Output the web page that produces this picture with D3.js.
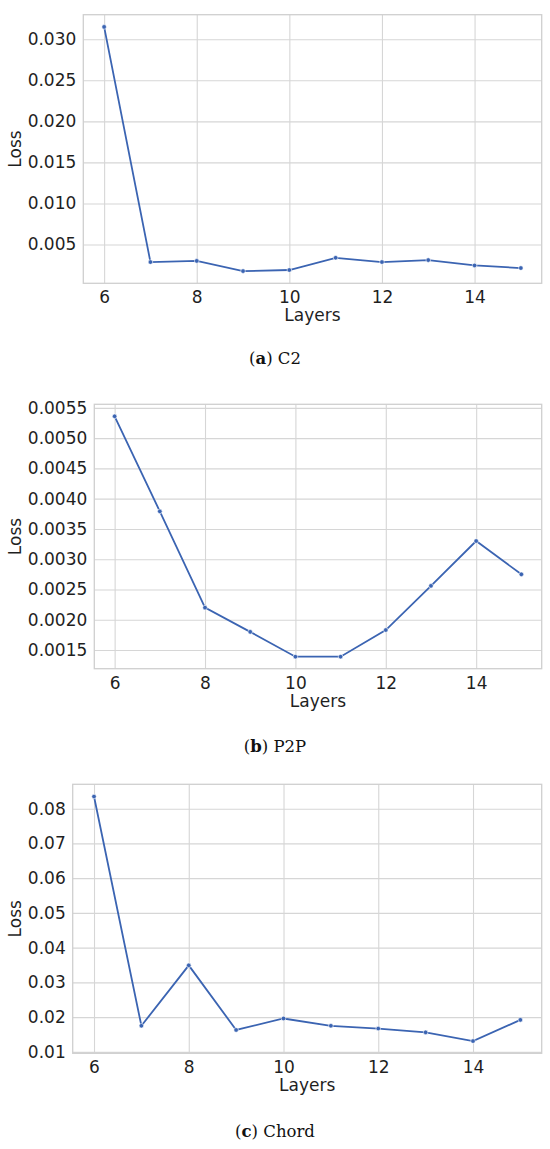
<!DOCTYPE html>
<html>
<head>
<meta charset="utf-8">
<script src="https://cdn.jsdelivr.net/npm/d3@7"></script>
<style>
  body { margin: 0; background: #fff; }
  svg text { font-family: "DejaVu Sans", sans-serif; fill: #1f1f1f; }
  text.cap { font-family: "DejaVu Serif", "Liberation Serif", serif; fill: #111; }
</style>
</head>
<body>
<div id="g1"></div>
<script>
// data
var layers = [6, 7, 8, 9, 10, 11, 12, 13, 14, 15];
var c2Loss = [0.0315, 0.00286, 0.0030, 0.00176, 0.00189, 0.00338, 0.00286, 0.0031, 0.00245, 0.00213];
var p2pLoss = [0.00536, 0.00379, 0.0022, 0.0018, 0.00139, 0.00139, 0.00183, 0.00256, 0.0033, 0.00275];
var chordLoss = [0.0835, 0.0175, 0.0349, 0.0163, 0.0196, 0.0175, 0.0167, 0.0156, 0.0131, 0.0192];
var xTicks = [6, 8, 10, 12, 14];
var c2Ticks = [0.005, 0.010, 0.015, 0.020, 0.025, 0.030];
var p2pTicks = [0.0015, 0.0020, 0.0025, 0.0030, 0.0035, 0.0040, 0.0045, 0.0050, 0.0055];
var chordTicks = [0.01, 0.02, 0.03, 0.04, 0.05, 0.06, 0.07, 0.08];
var captions = [["a", "C2"], ["b", "P2P"], ["c", "Chord"]];

var w = 550, h = 1149;
var svg = d3.select("#g1").append("svg").attr("width", w).attr("height", h);

var panels = [
  {values: c2Loss, ticks: c2Ticks, fmt: ".3f", left: 83.3, top: 14.7, bottom: 283.3, cap: captions[0], capY: 364},
  {values: p2pLoss, ticks: p2pTicks, fmt: ".4f", left: 94.3, top: 404.3, bottom: 668.7, cap: captions[1], capY: 752},
  {values: chordLoss, ticks: chordTicks, fmt: ".2f", left: 72.7, top: 784.3, bottom: 1053.3, cap: captions[2], capY: 1137}
];
var right = 541.7;
var blue = "#3b64b2", grid = "#d6d6d6";

panels.forEach(function(p) {
  // matplotlib style 5% margins
  var xr = d3.extent(layers), xm = (xr[1] - xr[0]) * 0.05;
  var yr = d3.extent(p.values), ym = (yr[1] - yr[0]) * 0.05;
  var x = d3.scaleLinear().domain([xr[0] - xm, xr[1] + xm]).range([p.left, right]);
  var y = d3.scaleLinear().domain([yr[0] - ym, yr[1] + ym]).range([p.bottom, p.top]);

  var g = svg.append("g");

  // grid
  g.append("g").attr("transform", "translate(0," + p.bottom + ")")
    .call(d3.axisBottom(x).tickValues(xTicks).tickSize(-(p.bottom - p.top)).tickFormat(""))
    .call(function(a) { a.select(".domain").remove(); a.selectAll("line").attr("stroke", grid).attr("stroke-width", 1.1); });
  g.append("g").attr("transform", "translate(" + p.left + ",0)")
    .call(d3.axisLeft(y).tickValues(p.ticks).tickSize(-(right - p.left)).tickFormat(""))
    .call(function(a) { a.select(".domain").remove(); a.selectAll("line").attr("stroke", grid).attr("stroke-width", 1.1); });

  // frame
  g.append("rect").attr("x", p.left).attr("y", p.top)
    .attr("width", right - p.left).attr("height", p.bottom - p.top)
    .attr("fill", "none").attr("stroke", "#cfcfcf").attr("stroke-width", 1.3);

  // tick labels
  g.append("g").attr("transform", "translate(0," + p.bottom + ")")
    .call(d3.axisBottom(x).tickValues(xTicks).tickSize(0).tickPadding(8).tickFormat(d3.format("d")))
    .call(function(a) { a.select(".domain").remove(); a.selectAll("text").attr("font-size", 17).attr("font-family", null).attr("fill", "#1f1f1f"); });
  g.append("g").attr("transform", "translate(" + p.left + ",0)")
    .call(d3.axisLeft(y).tickValues(p.ticks).tickSize(0).tickPadding(7).tickFormat(d3.format(p.fmt)))
    .call(function(a) { a.select(".domain").remove(); a.selectAll("text").attr("font-size", 17).attr("font-family", null).attr("fill", "#1f1f1f"); });

  // axis titles
  g.append("text").attr("x", (p.left + right) / 2).attr("y", p.bottom + 38)
    .attr("text-anchor", "middle").attr("font-size", 17).text("Layers");
  g.append("text").attr("transform", "translate(21," + (p.top + p.bottom) / 2 + ") rotate(-90)")
    .attr("text-anchor", "middle").attr("font-size", 17).text("Loss");

  // line + markers
  var pts = layers.map(function(l, i) { return [l, p.values[i]]; });
  g.append("path").datum(pts)
    .attr("fill", "none").attr("stroke", blue).attr("stroke-width", 1.8)
    .attr("d", d3.line().x(function(d) { return x(d[0]); }).y(function(d) { return y(d[1]); }));
  g.selectAll("circle").data(pts).enter().append("circle")
    .attr("cx", function(d) { return x(d[0]); }).attr("cy", function(d) { return y(d[1]); })
    .attr("r", 2.3).attr("fill", blue).attr("stroke", "#fff").attr("stroke-width", 0.6);

  // caption
  var cap = g.append("text").attr("class", "cap").attr("x", 275).attr("y", p.capY)
    .attr("text-anchor", "middle").attr("font-size", 16.5);
  cap.append("tspan").text("(");
  cap.append("tspan").attr("font-weight", "bold").text(p.cap[0]);
  cap.append("tspan").text(") " + p.cap[1]);
});
</script>
</body>
</html>
